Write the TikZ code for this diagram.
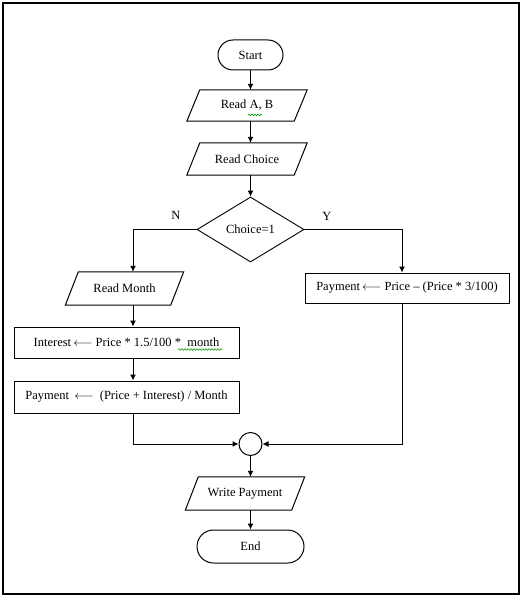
\documentclass[tikz,border=0pt]{standalone}
\usepackage{fontspec}
\setmainfont{Liberation Serif}
\usetikzlibrary{shapes.geometric,shapes.misc,arrows.meta,decorations.pathmorphing}
\begin{document}
\begin{tikzpicture}[x=1pt,y=-1pt,
  every node/.style={font=\fontsize{12.5}{14}\selectfont, inner sep=0pt},
  box/.style={draw, line width=1pt, rectangle, minimum width=#1, minimum height=31},
  io/.style={rectangle, minimum width=#1, minimum height=32,
    append after command={\pgfextra{\draw[line width=1pt]
      ([xshift=6.5pt]\tikzlastnode.north west) -- ([xshift=6.5pt]\tikzlastnode.north east) --
      ([xshift=-6.5pt]\tikzlastnode.south east) -- ([xshift=-6.5pt]\tikzlastnode.south west) -- cycle;}}},
  term/.style={draw, line width=1pt, rounded rectangle, minimum width=#1, minimum height=30},
  dec/.style={draw, line width=0.9pt, diamond, minimum width=107, minimum height=65, aspect=1.65},
  junction/.style={draw, line width=1pt, circle, minimum size=23},
  flow/.style={line width=1pt, -{Latex[length=6pt,width=6pt]}},
  squig/.style={draw=green!60!black, line width=0.6pt, decorate, decoration={snake, amplitude=0.8pt, segment length=3pt}}
]
\useasboundingbox (0,0) rectangle (524,599);
\draw[line width=2pt] (3,3) rectangle (519,594);

\node[term=65] (start) at (250.5,55) {Start};
\node[io=107, minimum height=31] (ab) at (247,105.5) {Read A, B};
\node[io=107] (ch) at (247,159) {Read Choice};
\node[dec] (dia) at (250.5,229.5) {Choice=1};
\node (nlab) at (176,215) {N};
\node (ylab) at (327,216) {Y};
\node[io=105, minimum height=33] (rm) at (124.5,288.5) {Read Month};
\node[box=225] (int) at (126.5,342.5) {Interest\,$\longleftarrow$ Price * 1.5/100 *\ \ month};
\node[box=225, minimum height=32] (pay) at (126.5,397) {Payment \,$\longleftarrow$\ \ (Price + Interest) / Month};
\node[box=204, minimum height=30] (rb) at (407,288) {Payment\,$\longleftarrow$ Price -- (Price * 3/100)};
\node[junction] (jn) at (250.5,444) {};
\node[io=106, minimum height=33] (wp) at (245,493.5) {Write Payment};
\node[term=107, minimum height=33] (end) at (250.5,546.5) {End};

\coordinate (nx) at (133,0);
\coordinate (ny) at (402,0);

\draw[flow] (start.south) -- (start.south |- ab.north);
\draw[flow] (start.south |- ab.south) -- (start.south |- ch.north);
\draw[flow] (start.south |- ch.south) -- (dia.north);
\draw[flow] (dia.west) -| (nx |- rm.north);
\draw[flow] (nx |- rm.south) -- (nx |- int.north);
\draw[flow] (nx |- int.south) -- (nx |- pay.north);
\draw[flow] (nx |- pay.south) |- (jn.west);
\draw[flow] (dia.east) -| (ny |- rb.north);
\draw[flow] (ny |- rb.south) |- (jn.east);
\draw[flow] (jn.south) -- (jn.south |- wp.north);
\draw[flow] (jn.south |- wp.south) -- (end.north);

\draw[squig] (248,115) -- (262,115);
\draw[squig] (178,349.5) -- (222,349.5);
\end{tikzpicture}
\end{document}
